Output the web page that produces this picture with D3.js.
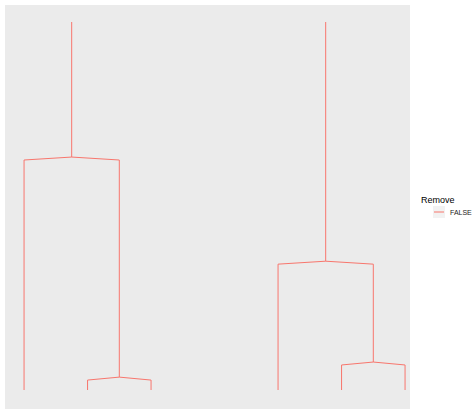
<!DOCTYPE html><html><head><script src="https://cdn.jsdelivr.net/npm/d3@7"></script>
<style>body{margin:0;background:#fff}</style></head><body><svg id="c" width="474" height="415"></svg>
<script>
// leaves: x positions
const leafPos = [1,2,3,5,6,7];
// merges: [leftChild, rightChild, height]; children: "L<i>" leaf index or "M<i>" merge index
const merges = [
  ["L1","L2",0.35],
  ["L0","M0",6.33],
  ["L4","L5",0.76],
  ["L3","M2",3.5]
];
const rootTop = 10;
const roots = ["M1","M3"];
const drop = 0.08;

const svg = d3.select("#c");
const x = d3.scaleLinear().domain([0.7,7.078]).range([5,410]);
const y = d3.scaleLinear().domain([0,10]).range([390,22]);
svg.append("rect").attr("x",5).attr("y",5).attr("width",405).attr("height",404).attr("fill","#EBEBEB");
const col = "#F8766D";
function pos(id){
  if(id[0]==="L") return {x:leafPos[+id.slice(1)],h:0};
  const m = merges[+id.slice(1)];
  return {x:(pos(m[0]).x+pos(m[1]).x)/2,h:m[2]};
}
const segs=[];
merges.forEach(m=>{
  const p={x:(pos(m[0]).x+pos(m[1]).x)/2,h:m[2]};
  [m[0],m[1]].forEach(c=>{
    const q=pos(c);
    segs.push([p.x,p.h,q.x,p.h-drop]);
    segs.push([q.x,p.h-drop,q.x,q.h]);
  });
});
roots.forEach(r=>{const p=pos(r);segs.push([p.x,rootTop,p.x,p.h]);});
svg.selectAll("line.s").data(segs).join("line").attr("class","s")
  .attr("x1",d=>x(d[0])).attr("y1",d=>y(d[1])).attr("x2",d=>x(d[2])).attr("y2",d=>y(d[3]))
  .attr("stroke",col).attr("stroke-width",1);
const lg=svg.append("g").attr("font-family","Liberation Sans, Arial, sans-serif");
lg.append("text").attr("x",421).attr("y",203).attr("font-size",9).attr("fill","#000").text("Remove");
lg.append("rect").attr("x",433).attr("y",206).attr("width",12).attr("height",12).attr("fill","#F2F2F2");
lg.append("line").attr("x1",434).attr("x2",444).attr("y1",212).attr("y2",212).attr("stroke",col).attr("stroke-width",1);
lg.append("text").attr("x",450).attr("y",215).attr("font-size",7).attr("fill","#1a1a1a").text("FALSE");
</script></body></html>
